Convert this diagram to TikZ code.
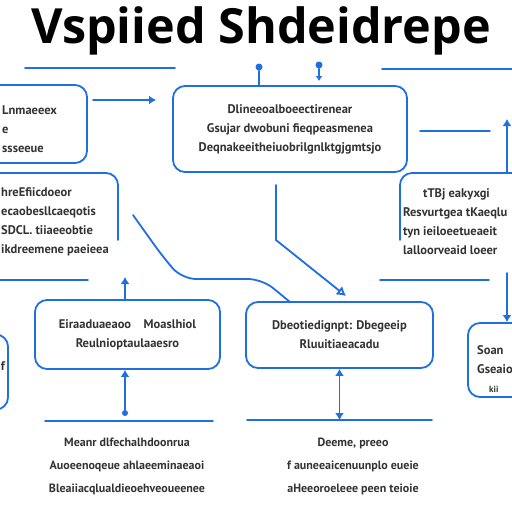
\documentclass[tikz,border=0pt]{standalone}
\usepackage{fontspec}
\setmainfont{PT Sans}
\newfontfamily\headfont{Open Sans}
\usetikzlibrary{arrows.meta}
\definecolor{flow}{HTML}{1F6FE3}
\definecolor{ink}{HTML}{333333}
\begin{document}
\begin{tikzpicture}[x=1pt, y=-1pt, line join=round, line cap=round,
    box/.style={draw=flow, line width=1.8pt, rounded corners=12pt, inner sep=0pt},
    txt/.style={text=ink, font=\fontsize{12.5}{19}\selectfont\bfseries, align=center, inner sep=0pt},
    wire/.style={draw=flow, line width=1.8pt},
    tip/.style={-{Latex[length=7pt,width=9pt]}},
    pin/.style={circle, fill=flow, inner sep=0pt, minimum size=7pt}]
      \useasboundingbox (0,0) rectangle (512,512);
      \fill[white] (0,0) rectangle (512,512);

      \node[text=black, font=\headfont\fontsize{48.5}{50}\selectfont\bfseries, inner sep=0pt] (title) at (261,31) {Vspiied Shdeidrepe};

      \coordinate (topL1) at (25,68);   \coordinate (topL2) at (175,68);
      \coordinate (topR1) at (382,69);  \coordinate (topR2) at (515,69);
      \draw[wire] (topL1) -- (topL2);
      \draw[wire] (topR1) -- (topR2);

      \node[box, minimum width=234pt, minimum height=86pt] (plan) at (290,129) {};
      \node[txt] (plantext) at (290,129) {Dlineeoalboeectirenear\\Gsujar dwobuni fieqpeasmenea\\Deqnakeeitheiuobrilgnlktgjgmtsjo};
      \node[pin] (pinA) at (259,67) {};
      \draw[wire] (pinA) -- (plan.north -| pinA);
      \node[pin] (pinB) at (319,65) {};
      \coordinate (pinBend) at (319,81);
      \draw[wire, -{Latex[length=5pt,width=7pt]}] (pinB) -- (pinBend);

      \node[box, minimum width=110pt, minimum height=78pt] (intake) at (32,124) {};
      \node[txt, align=left, anchor=west] (intaketext) at (2,129) {Lnmaeeex\\e\\ssseeue};
      \coordinate (feedA) at (93,100);  \coordinate (feedB) at (156,100);
      \draw[wire, tip] (feedA) -- (feedB);

      \coordinate (sideA) at (420,131); \coordinate (sideB) at (490,131);
      \draw[wire] (sideA) -- (sideB);

      \coordinate (midL1) at (-5,173);  \coordinate (midL2) at (118,173);  \coordinate (midL3) at (118,240);
      \draw[wire, rounded corners=12pt] (midL1) -- (midL2) -- (midL3);
      \node[txt, align=left, anchor=west] (midLtext) at (1,222) {hreEfiicdoeor\\ecaobesllcaeqotis\\SDCL. tiiaeeobtie\\ikdreemene paeieea};
      \coordinate (lowL1) at (-5,280);  \coordinate (lowL2) at (88,280);
      \draw[wire] (lowL1) -- (lowL2);

      \coordinate (midR1) at (517,173); \coordinate (midR2) at (400,173); \coordinate (midR3) at (400,240);
      \draw[wire, rounded corners=12pt] (midR1) -- (midR2) -- (midR3);
      \node[txt, align=left, anchor=west] (midRtext) at (403,222) {\hspace{20pt}tTBj eakyxgi\\Resvurtgea tKaeqlu\\tyn ieiloeetueaeit\\lalloorveaid loeer};
      \coordinate (upR) at (507,119);
      \draw[wire, tip] (midR2 -| upR) -- (upR);
      \coordinate (lowR1) at (380,280); \coordinate (lowR2) at (489,280);
      \draw[wire] (lowR1) -- (lowR2);

      \node[box, minimum width=185pt, minimum height=69pt] (build) at (127.5,334.5) {};
      \node[txt] (buildtext) at (127.5,334.5) {Eiraaduaeaoo\quad Moaslhiol\\Reulnioptaulaaesro};
      \node[box, minimum width=187pt, minimum height=66pt] (check) at (339.5,335) {};
      \node[txt] (checktext) at (339.5,335) {Dbeotiedignpt: Dbegeeip\\Rluuitiaeacadu};
      \node[box, minimum width=80pt, minimum height=74pt] (store) at (508,360) {};
      \node[txt, align=left, anchor=west] (storetext) at (477,369) {Soan\\Gseaio\\\hspace{12pt}{\fontsize{9}{9}\selectfont kii}};
      \node[box, minimum width=60pt, minimum height=75pt] (edge) at (-22,372) {};
      \node[txt] (edgetext) at (3,366) {f};

      \coordinate (riseA) at (125,277);
      \draw[wire, tip] (build.north -| riseA) -- (riseA);

      \coordinate (bendA) at (133,215); \coordinate (bendB) at (163,257);
      \coordinate (bendC) at (182,279); \coordinate (bendD) at (262,279);
      \draw[wire, rounded corners=14pt] (bendA) -- (bendB) -- (bendC) -- (bendD) -- (290,302);
      \coordinate (dropA) at (276,185); \coordinate (dropB) at (276,240); \coordinate (dropC) at (346,296);
      \draw[wire, -{Latex[length=9pt,width=11pt,open]}] (dropA) -- (dropB) -- (dropC);

      \coordinate (downR1) at (507,273);
      \draw[wire, tip] (downR1) -- (store.north -| downR1);

      \node[pin, minimum size=6pt] (pinC) at (125,413) {};
      \draw[wire, tip] (pinC) -- (build.south -| pinC);
      \coordinate (baseL1) at (45,421); \coordinate (baseL2) at (213,421);
      \draw[wire] (baseL1) -- (baseL2);
      \coordinate (baseR1) at (247,420); \coordinate (baseR2) at (432,420);
      \draw[wire] (baseR1) -- (baseR2);
      \draw[wire, {Latex[length=7pt,width=9pt]}-{Latex[length=7pt,width=9pt]}] (check.south) -- (check.south |- baseR1);

      \node[txt, font=\fontsize{12}{23}\selectfont\bfseries] (noteL) at (127,466) {Meanr dlfechalhdoonrua\\Auoeenoqeue ahlaeeminaeaoi\\Bleaiiacqlualdieoehveoueenee};
      \node[txt, font=\fontsize{12}{23}\selectfont\bfseries] (noteR) at (353,466) {Deeme, preeo\\f auneeaicenuunplo eueie\\aHeeoroeleee peen teioie};
    \end{tikzpicture}
\end{document}
